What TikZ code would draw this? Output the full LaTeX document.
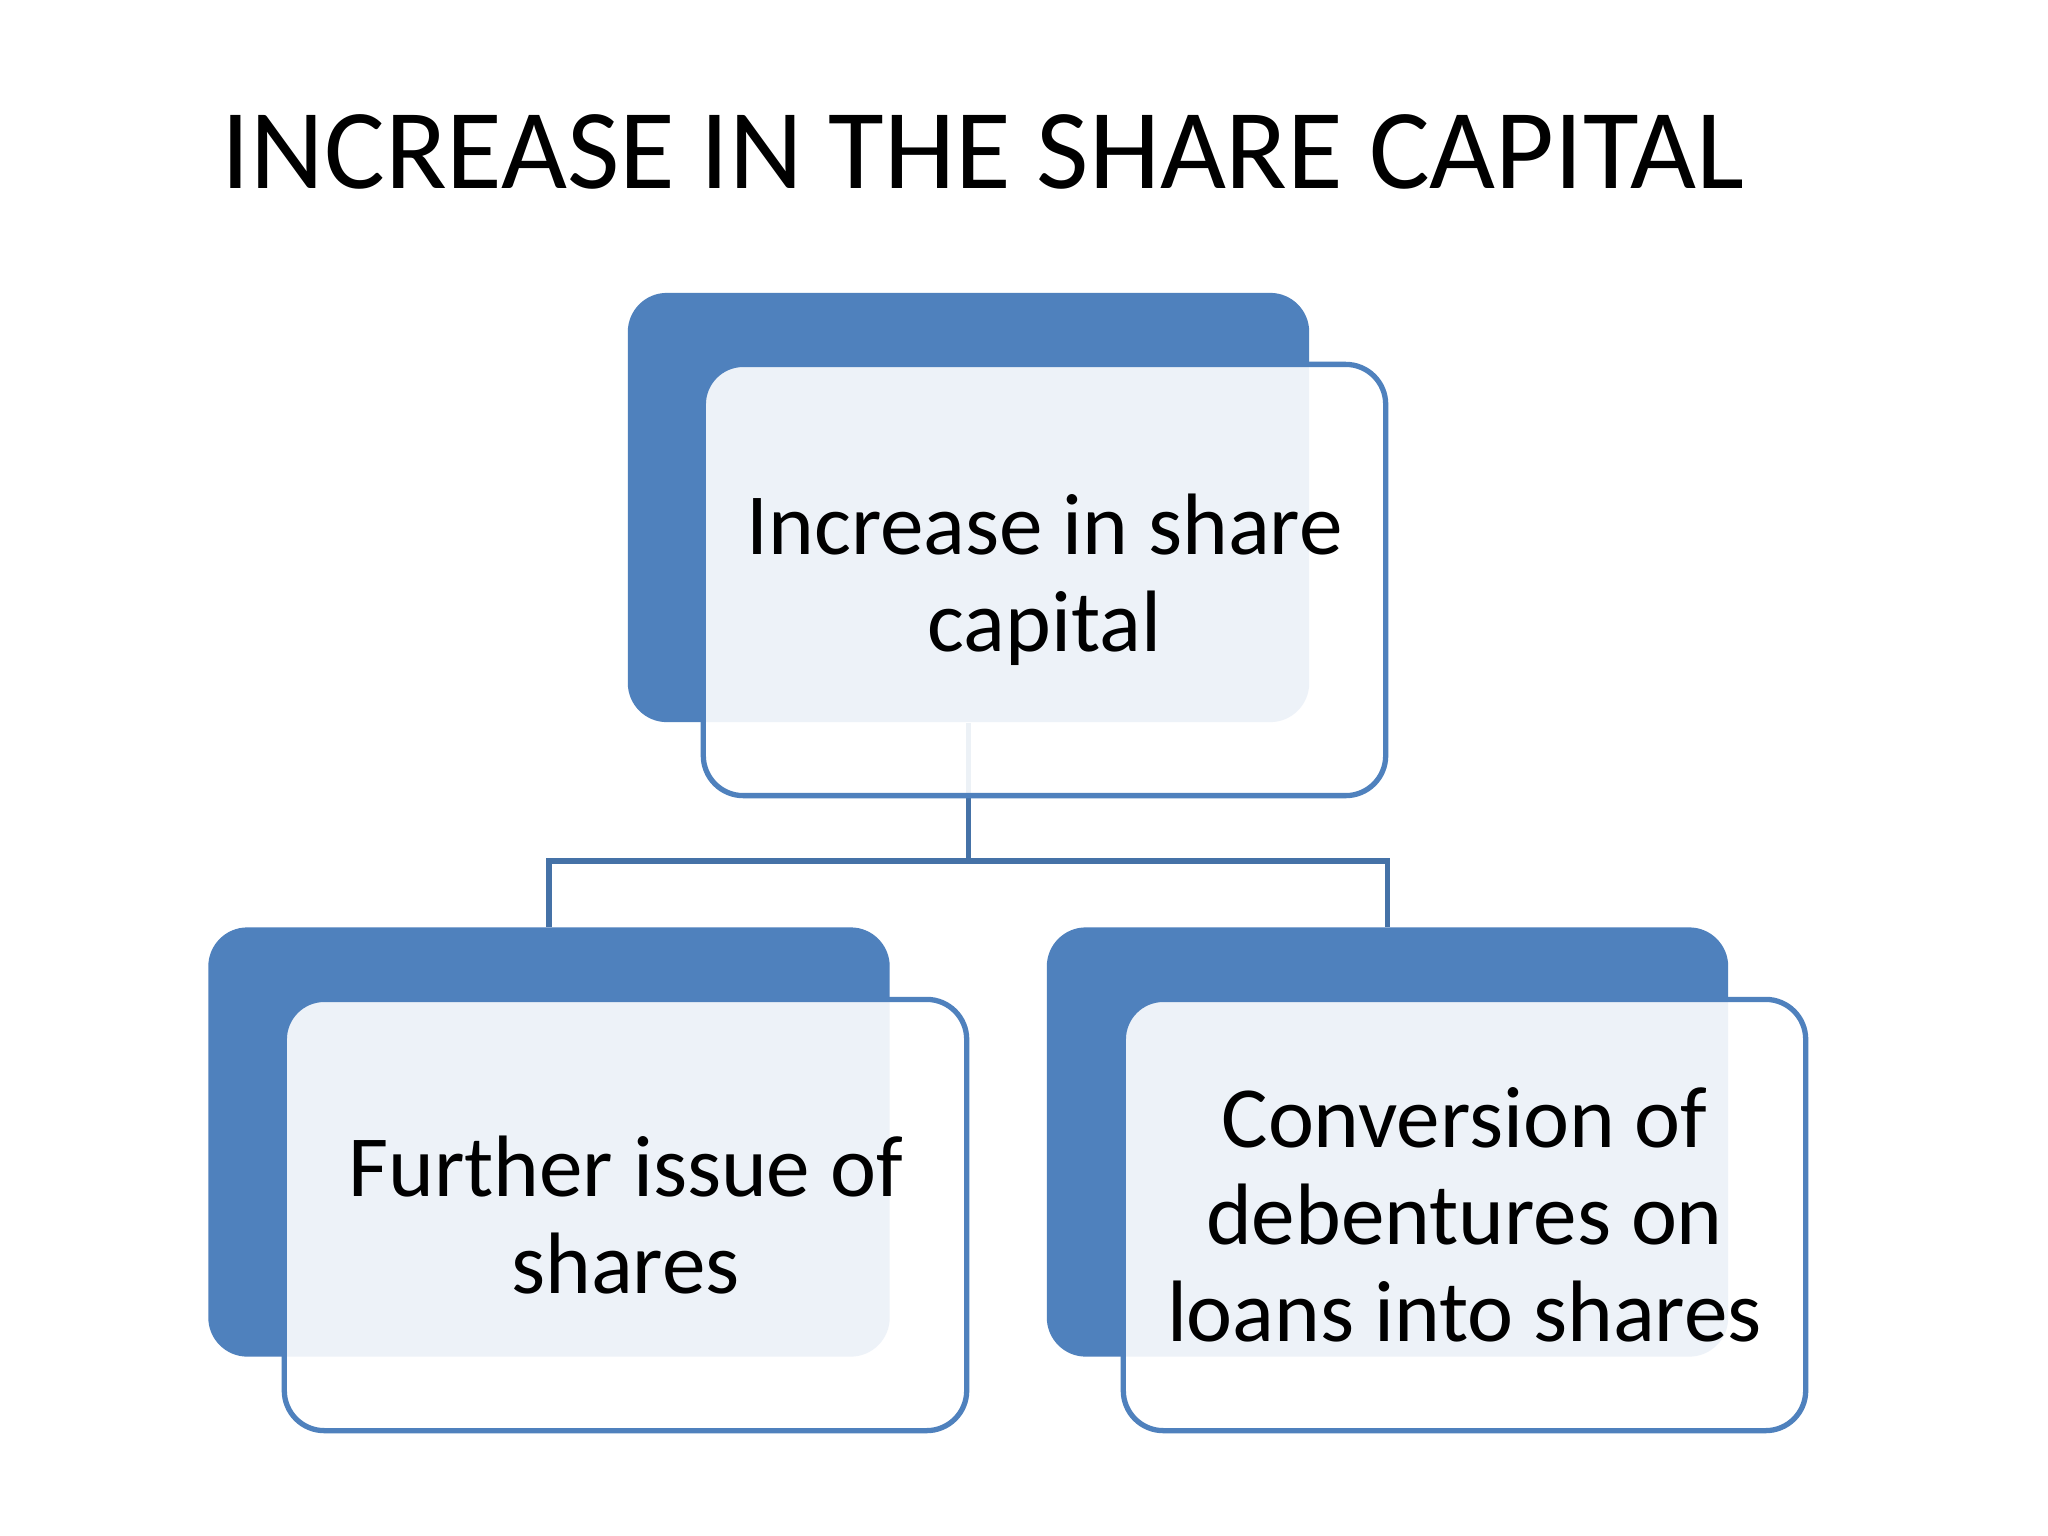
\documentclass[tikz,border=0pt]{standalone}
\usepackage{fontspec}
\setmainfont{Carlito}
\usetikzlibrary{calc}
\definecolor{sc_blue}{RGB}{79,129,189}
\definecolor{sc_line}{RGB}{69,114,167}
\tikzstyle{back}=[rectangle,rounded corners=0.39cm,fill=sc_blue,draw=none,
  minimum width=6.81cm,minimum height=4.29cm,inner sep=0pt]
\tikzstyle{front}=[rectangle,rounded corners=0.4cm,fill=white,fill opacity=0.9,
  text opacity=1,draw=sc_blue,line width=1.5pt,minimum width=6.82cm,
  minimum height=4.31cm,inner sep=0pt,align=center,
  font=\fontsize{24.8}{27.5}\selectfont]
\tikzstyle{conn}=[draw=sc_line,line width=1.6pt]
\tikzstyle{none}=[]

\begin{document}
\begin{tikzpicture}[x=0.01cm,y=-0.01cm]
            \useasboundingbox (0,0) rectangle (2048,1536);
            \fill [white] (0,0) rectangle (2048,1536);
            \node [style=none,font=\fontsize{32.4}{38}\selectfont] (t) at (983, 152) {INCREASE IN THE SHARE CAPITAL};
            \node [style=back] (0) at (968.5, 507.5) {};
            \node [style=back] (2) at (549, 1142) {};
            \node [style=back] (4) at (1387.5, 1142) {};
            \coordinate (j) at (968.5, 861);
            \draw [style=conn] (0.south) to (j);
            \draw [style=conn] (2.north) |- (j) -| (4.north);
            \node [style=front] (1) at (1044.5, 580) {Increase in share\\capital};
            \node [style=front] (3) at (625.5, 1215) {Further issue of\\shares};
            \node [style=front] (5) at (1464.5, 1215) {Conversion of\\debentures on\\loans into shares};
    \end{tikzpicture}
\end{document}
